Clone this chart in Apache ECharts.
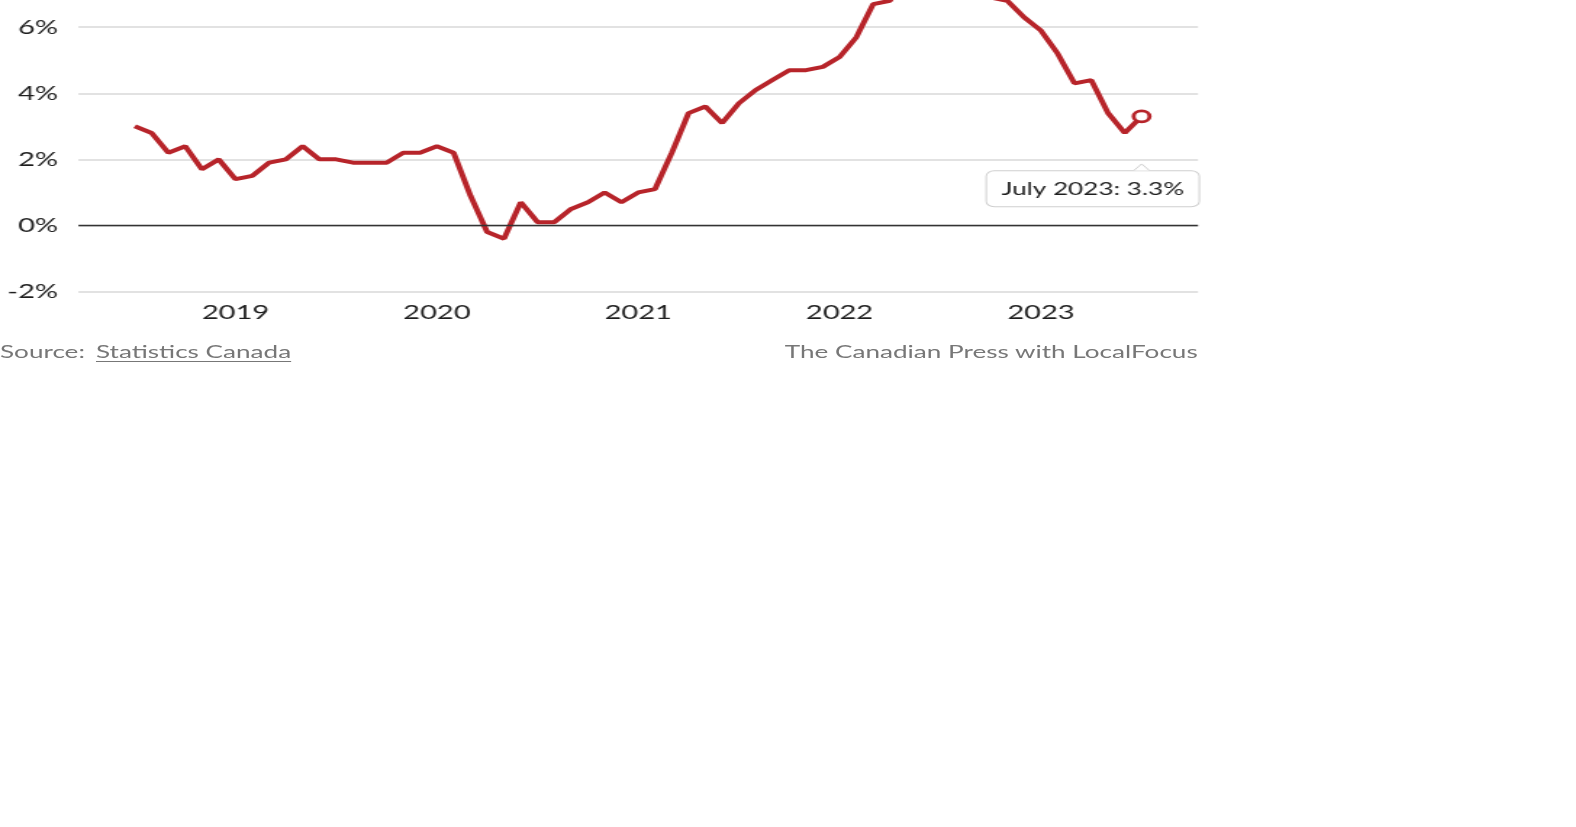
<!DOCTYPE html>
<html>
<head>
<meta charset="utf-8">
<title>Canada inflation</title>
<script src="https://cdn.jsdelivr.net/npm/echarts@6/dist/echarts.min.js"></script>
<style>
    html, body { margin: 0; padding: 0; background: #fff; overflow: hidden; }
    /* the source picture is stretched sideways, so draw narrow and scale */
    #wrap { position: absolute; left: 0; top: 0; width: 1087px; height: 827px; transform: scaleX(1.45); transform-origin: 0 0; }
    #main { width: 1087px; height: 827px; }
    .foot { position: absolute; top: 339px; line-height: 24px; font-family: Lato, sans-serif; font-size: 18px; color: #777; white-space: nowrap; }
    .foot u { text-underline-offset: 3px; margin-left: 3px; }
</style>
</head>
<body>
<div id="wrap">
    <div id="main"></div>
    <div class="foot" style="left:0;">Source: <u>Statistics Canada</u></div>
    <div class="foot" style="right:261px;">The Canadian Press with LocalFocus</div>
</div>
<script>
// monthly CPI change, year over year, from July 2018
const startYear = 2018;
const startMonth = 7;
const cpi = [
    3.0, 2.8, 2.2, 2.4, 1.7, 2.0,
    1.4, 1.5, 1.9, 2.0, 2.4, 2.0, 2.0, 1.9, 1.9, 1.9, 2.2, 2.2,
    2.4, 2.2, 0.9, -0.2, -0.4, 0.7, 0.1, 0.1, 0.5, 0.7, 1.0, 0.7,
    1.0, 1.1, 2.2, 3.4, 3.6, 3.1, 3.7, 4.1, 4.4, 4.7, 4.7, 4.8,
    5.1, 5.7, 6.7, 6.8, 7.7, 8.1, 7.6, 7.0, 6.9, 6.9, 6.8, 6.3,
    5.9, 5.2, 4.3, 4.4, 3.4, 2.8, 3.3
];
const yearTicks = [2019, 2020, 2021, 2022, 2023];
const monthNames = ['January', 'February', 'March', 'April', 'May', 'June',
    'July', 'August', 'September', 'October', 'November', 'December'];

const red = '#b7242a';
const points = cpi.map((v, i) => [startYear + (startMonth - 1 + i) / 12, v]);
const last = points[points.length - 1];
const lastIdx = startMonth - 1 + cpi.length - 1;
const lastText = monthNames[lastIdx % 12] + ' ' + (startYear + Math.floor(lastIdx / 12)) + ': ' + last[1] + '%';

const myChart = echarts.init(document.getElementById('main'));
const option = {
    animation: false,
    textStyle: { fontFamily: 'Lato, sans-serif' },
    grid: { left: 54.1, right: 260.8, top: -104.9, bottom: 535.5, outerBoundsMode: 'none', containLabel: false },
    xAxis: {
        type: 'value',
        min: 2018.22,
        max: 2023.78,
        axisLine: { show: false, onZero: false },
        axisTick: { show: false },
        splitLine: { show: false },
        axisLabel: {
            customValues: yearTicks,
            formatter: v => String(v),
            fontSize: 20,
            color: '#1e1e1e',
            margin: 11
        }
    },
    yAxis: {
        type: 'value',
        min: -2,
        max: 10,
        interval: 2,
        axisLine: { show: false },
        axisTick: { show: false },
        splitLine: { lineStyle: { color: '#d8d8d8', width: 1.5 } },
        axisLabel: { formatter: '{value}%', fontSize: 20, color: '#1e1e1e', margin: 14 }
    },
    series: [
        {
            type: 'line',
            data: points,
            symbol: 'none',
            lineStyle: { color: red, width: 4 },
            markLine: {
                silent: true,
                symbol: 'none',
                label: { show: false },
                lineStyle: { color: '#333', width: 1.4, type: 'solid' },
                data: [{ yAxis: 0 }]
            }
        },
        {
            type: 'scatter',
            data: [last],
            symbol: 'circle',
            symbolSize: 11,
            z: 5,
            itemStyle: { color: '#fff', borderColor: red, borderWidth: 2.8, opacity: 1 },
            label: {
                show: true,
                position: 'bottom',
                distance: 48,
                offset: [-33.7, 0],
                formatter: lastText,
                fontSize: 18,
                color: '#1e1e1e',
                backgroundColor: '#fff',
                borderColor: '#cfcfcf',
                borderWidth: 1,
                borderRadius: 5,
                padding: [9, 10, 8, 10]
            }
        }
    ]
};
myChart.setOption(option);

// little pointer on top of the label box
const p = myChart.convertToPixel({ gridIndex: 0 }, last);
myChart.setOption({
    graphic: [
        {
            type: 'polygon',
            z: 100,
            shape: { points: [[p[0] - 5, p[1] + 54.2], [p[0], p[1] + 47.5], [p[0] + 5, p[1] + 54.2]] },
            style: { fill: '#fff' }
        },
        {
            type: 'polyline',
            z: 101,
            shape: { points: [[p[0] - 5, p[1] + 53.6], [p[0], p[1] + 47.5], [p[0] + 5, p[1] + 53.6]] },
            style: { stroke: '#cfcfcf', lineWidth: 1, fill: null }
        }
    ]
});
</script>
</body>
</html>
